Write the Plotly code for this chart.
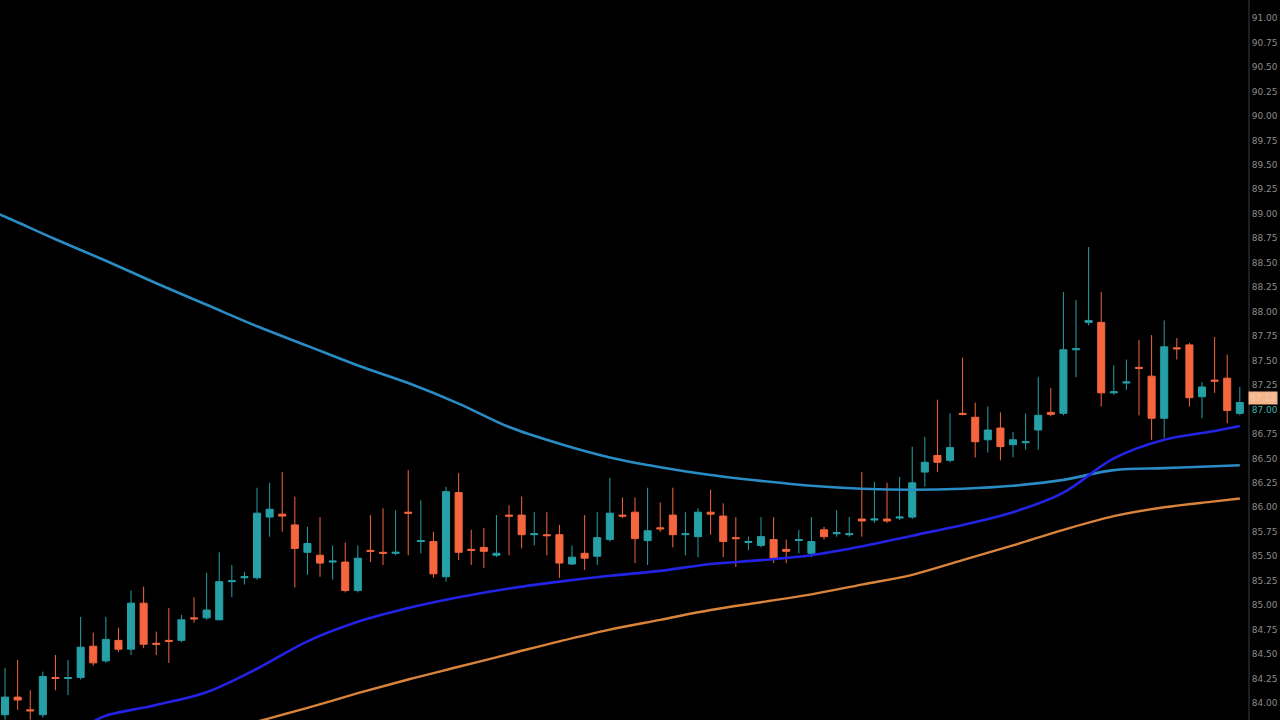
import plotly.graph_objects as go

# ---- candle data (price units) ----
opens = [83.88, 84.06, 83.93, 83.88, 84.26, 84.25, 84.26, 84.58, 84.43, 84.64,
         84.55, 85.02, 84.61, 84.64, 84.64, 84.87, 84.87, 84.85, 85.24, 85.28, 85.28,
         85.90, 85.93, 85.82, 85.54, 85.51, 85.44, 85.44, 85.15, 85.56, 85.54,
         85.53, 85.95, 85.65, 85.65, 85.29, 86.15, 85.57, 85.59, 85.51, 85.92,
         85.92, 85.72, 85.72, 85.72, 85.42, 85.53, 85.50, 85.67, 85.92, 85.95,
         85.66, 85.79, 85.92, 85.72, 85.70, 85.95, 85.91, 85.69, 85.64, 85.61,
         85.67, 85.57, 85.66, 85.53, 85.77, 85.73, 85.72, 85.88, 85.87, 85.88,
         85.89, 85.90, 86.36, 86.53, 86.48, 86.96, 86.92, 86.69, 86.81,
         86.64, 86.66, 86.79, 86.97, 86.96, 87.61, 87.89, 87.89, 87.17, 87.27,
         87.43, 87.34, 86.91, 87.63, 87.66, 87.13, 87.30, 87.32, 86.96]
closes = [84.06, 84.03, 83.92, 84.27, 84.25, 84.26, 84.57, 84.41, 84.65, 84.55,
          85.02, 84.60, 84.60, 84.63, 84.85, 84.86, 84.95, 85.24, 85.25, 85.29, 85.94,
          85.98, 85.91, 85.58, 85.63, 85.43, 85.45, 85.15, 85.48, 85.55, 85.53,
          85.54, 85.94, 85.66, 85.32, 86.16, 85.54, 85.56, 85.55, 85.53, 85.91,
          85.72, 85.73, 85.71, 85.43, 85.49, 85.48, 85.69, 85.94, 85.91, 85.68,
          85.76, 85.78, 85.72, 85.73, 85.95, 85.93, 85.65, 85.68, 85.65, 85.70,
          85.48, 85.55, 85.67, 85.65, 85.70, 85.74, 85.73, 85.86, 85.88, 85.86,
          85.90, 86.25, 86.46, 86.46, 86.61, 86.95, 86.67, 86.79, 86.62,
          86.69, 86.67, 86.94, 86.95, 87.61, 87.62, 87.91, 87.17, 87.18, 87.28,
          87.42, 86.91, 87.64, 87.62, 87.12, 87.23, 87.29, 86.99, 87.07]
highs = [84.36, 84.44, 84.13, 84.32, 84.49, 84.44, 84.88, 84.72, 84.88, 84.77,
         85.15, 85.19, 84.73, 84.97, 84.90, 85.08, 85.33, 85.54, 85.41, 85.34, 86.20,
         86.25, 86.36, 86.11, 85.80, 85.90, 85.61, 85.64, 85.61, 85.92, 85.99,
         85.97, 86.38, 86.07, 85.75, 86.21, 86.35, 85.77, 85.79, 85.92, 86.02,
         86.11, 85.95, 85.95, 85.82, 85.61, 85.92, 85.95, 86.30, 86.10, 86.10,
         86.20, 86.05, 86.20, 85.95, 85.99, 86.18, 86.04, 85.90, 85.70, 85.90,
         85.90, 85.67, 85.77, 85.90, 85.80, 85.97, 85.90, 86.36, 86.26, 86.25,
         86.31, 86.62, 86.72, 87.10, 86.96, 87.53, 87.07, 87.03, 86.97,
         86.77, 86.96, 87.33, 87.22, 88.20, 88.12, 88.66, 88.20, 87.45, 87.51,
         87.71, 87.76, 87.91, 87.73, 87.68, 87.28, 87.74, 87.56, 87.23]
lows = [83.83, 83.93, 83.83, 83.85, 84.13, 84.08, 84.24, 84.38, 84.41, 84.52,
        84.49, 84.56, 84.49, 84.41, 84.62, 84.82, 84.85, 84.85, 85.08, 85.21, 85.26,
        85.70, 85.75, 85.18, 85.31, 85.29, 85.26, 85.13, 85.13, 85.44, 85.41,
        85.51, 85.51, 85.53, 85.28, 85.24, 85.46, 85.41, 85.38, 85.49, 85.51,
        85.58, 85.61, 85.51, 85.28, 85.41, 85.36, 85.41, 85.65, 85.89, 85.43,
        85.41, 85.75, 85.59, 85.51, 85.49, 85.72, 85.49, 85.39, 85.56, 85.59,
        85.43, 85.43, 85.53, 85.49, 85.67, 85.70, 85.70, 85.70, 85.84, 85.84,
        85.87, 85.88, 86.21, 86.36, 86.46, 86.94, 86.51, 86.56, 86.48,
        86.51, 86.59, 86.59, 86.93, 86.94, 87.33, 87.86, 87.03, 87.15, 87.20,
        86.94, 86.69, 86.71, 87.51, 87.03, 86.91, 87.17, 86.86, 86.94]
bars = list(range(len(opens)))

# ---- moving averages (sampled every 4 bars) ----
ma_slow_x = [-1, 0, 4, 8, 12, 16, 20, 24, 28, 32, 36, 40, 44, 48, 52, 56, 60, 64,
             68, 72, 76, 80, 84, 88, 92, 96, 98]
ma_slow = [89.02, 88.97, 88.74, 88.52, 88.29, 88.07, 87.85, 87.65, 87.45, 87.27,
           87.06, 86.82, 86.65, 86.51, 86.41, 86.33, 86.27, 86.22, 86.19, 86.18,
           86.19, 86.22, 86.28, 86.38, 86.40, 86.42, 86.43]
ma_mid_x = [7, 8, 12, 16, 20, 24, 28, 32, 36, 40, 44, 48, 52, 56, 60, 64, 68, 72,
            76, 80, 84, 88, 92, 96, 98]
ma_mid = [83.81, 83.87, 83.98, 84.11, 84.35, 84.63, 84.83, 84.97, 85.08, 85.17,
          85.24, 85.30, 85.35, 85.42, 85.46, 85.51, 85.60, 85.71, 85.82, 85.95,
          86.15, 86.50, 86.69, 86.78, 86.83]
ma_long_x = [20, 24, 28, 32, 36, 40, 44, 48, 52, 56, 60, 64, 68, 72, 76, 80, 84,
             88, 92, 96, 98]
ma_long = [83.81, 83.95, 84.10, 84.24, 84.37, 84.50, 84.63, 84.75, 84.85, 84.95,
           85.03, 85.11, 85.21, 85.31, 85.46, 85.61, 85.77, 85.91, 86.00, 86.06,
           86.09]

tick_vals = [84.00 + 0.25 * i for i in range(29)]
last_price = 87.12
last_close = 87.00

UP = "#25a0a6"
DOWN = "#f5663f"
tick_text = []
for v in tick_vals:
    if abs(v - last_close) < 1e-6:
        tick_text.append("<span style='color:#3fb3a8'>%.2f</span>" % v)
    else:
        tick_text.append("%.2f" % v)

fig = go.Figure()
fig.add_trace(go.Scatter(x=ma_slow_x, y=ma_slow, mode="lines", line=dict(color="#2a8cc4", width=2.6, shape="spline"), hoverinfo="skip"))
fig.add_trace(go.Scatter(x=ma_long_x, y=ma_long, mode="lines", line=dict(color="#d9843a", width=2.4, shape="spline"), hoverinfo="skip"))
fig.add_trace(go.Scatter(x=ma_mid_x, y=ma_mid, mode="lines", line=dict(color="#2323e6", width=2.6, shape="spline"), hoverinfo="skip"))
fig.add_trace(go.Candlestick(
    x=bars, open=opens, high=highs, low=lows, close=closes,
    increasing=dict(line=dict(color=UP, width=1), fillcolor=UP),
    decreasing=dict(line=dict(color=DOWN, width=1), fillcolor=DOWN),
    whiskerwidth=0,
))

fig.add_annotation(x=1, xref="paper", y=last_price, yref="y", xanchor="left", yanchor="middle",
                   text="%.2f" % last_price, showarrow=False, bgcolor="#f4b48c",
                   font=dict(color="#f8c8a8", size=9, family="DejaVu Sans"), borderpad=1)

fig.update_layout(
    width=1280, height=720,
    paper_bgcolor="#000000", plot_bgcolor="#000000",
    margin=dict(l=0, r=32, t=0, b=0),
    showlegend=False,
    boxgap=0.2,
    xaxis=dict(range=[-0.4, 98.65], showgrid=False, zeroline=False, showticklabels=False,
               rangeslider=dict(visible=False), showline=False),
    yaxis=dict(range=[83.826, 91.185], side="right", showgrid=False, zeroline=False,
               tickvals=tick_vals, ticktext=tick_text, ticks="",
               tickfont=dict(color="#8c8c8c", size=9, family="DejaVu Sans"),
               showline=True, linecolor="#1e1e1e", linewidth=2),
)
fig.write_html("out.html", config={"displayModeBar": False},
               post_script="document.body.style.margin='0';document.body.style.background='#000';")
